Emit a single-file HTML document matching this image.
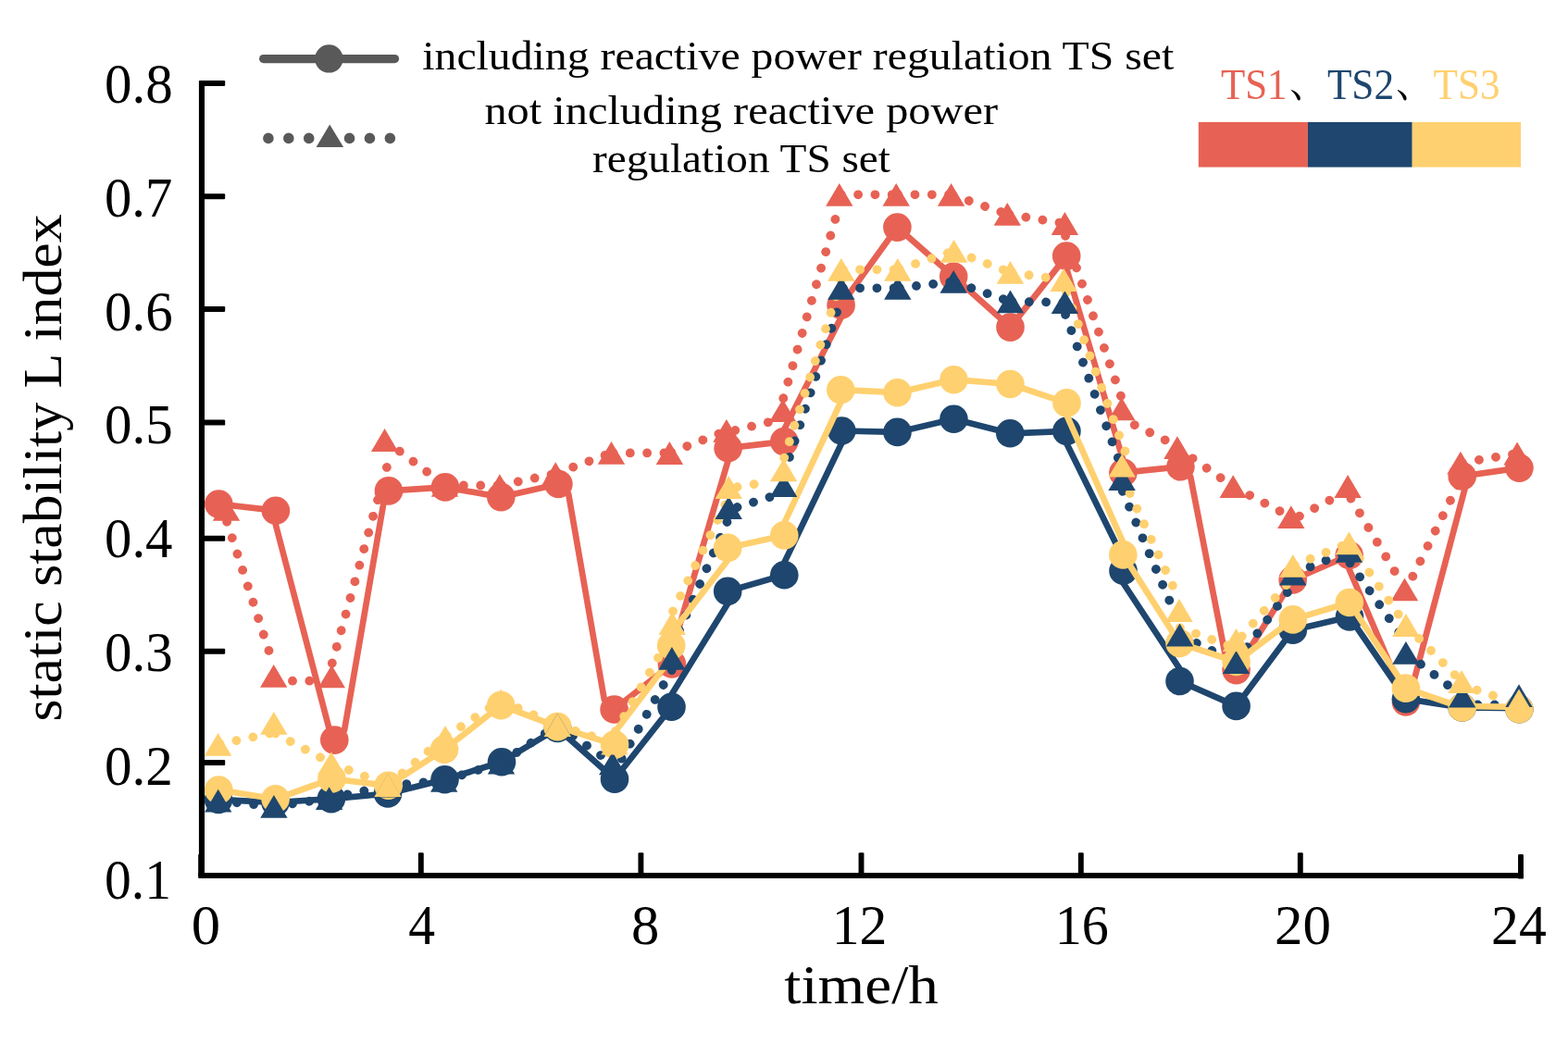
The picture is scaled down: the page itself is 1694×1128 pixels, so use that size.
<!DOCTYPE html>
<html lang="en">
<head>
<meta charset="utf-8">
<title>Static stability L index over time</title>
<style>
html,body{margin:0;padding:0;background:#fff;}
body{width:1694px;height:1128px;overflow:hidden;font-family:"Liberation Serif",serif;}
svg{display:block;}
text{white-space:pre;}
</style>
</head>
<body>
<svg width="1694" height="1128" viewBox="0 0 1694 1128">
<rect width="1694" height="1128" fill="#ffffff"/>
<g class="axes" fill="#000" stroke="none">
<rect class="y-axis" x="214.9" y="87" width="6.1" height="862" rx="0.8"/>
<rect class="x-axis" x="214.2" y="942.9" width="1431.8" height="6.1" rx="0.8"/>
<rect class="x-tick0" x="214.2" y="923" width="3" height="24" rx="0.8"/>
<rect class="y-tick" x="218" y="87.0" width="25.2" height="6" rx="1.2"/>
<rect class="y-tick" x="218" y="209.2" width="25.2" height="6" rx="1.2"/>
<rect class="y-tick" x="218" y="331.0" width="25.2" height="6" rx="1.2"/>
<rect class="y-tick" x="218" y="453.6" width="25.2" height="6" rx="1.2"/>
<rect class="y-tick" x="218" y="578.7" width="25.2" height="6" rx="1.2"/>
<rect class="y-tick" x="218" y="700.8" width="25.2" height="6" rx="1.2"/>
<rect class="y-tick" x="218" y="820.9" width="25.2" height="6" rx="1.2"/>
<rect class="x-tick" x="451.85" y="921.2" width="5.9" height="24.8" rx="1.2"/>
<rect class="x-tick" x="689.45" y="921.2" width="5.9" height="24.8" rx="1.2"/>
<rect class="x-tick" x="927.55" y="921.2" width="5.9" height="24.8" rx="1.2"/>
<rect class="x-tick" x="1164.85" y="921.2" width="5.9" height="24.8" rx="1.2"/>
<rect class="x-tick" x="1401.85" y="921.2" width="5.9" height="24.8" rx="1.2"/>
<rect class="x-tick" x="1640.05" y="923.0" width="5.9" height="26.6" rx="1.2"/>
</g>
<g class="ticklabels">
<text transform="translate(113.01,110.90) scale(0.9746,1)" font-family="'Liberation Serif', serif" font-size="60.5" fill="#000">0.8</text>
<text transform="translate(113.02,233.70) scale(0.9700,1)" font-family="'Liberation Serif', serif" font-size="60.5" fill="#000">0.7</text>
<text transform="translate(113.01,356.50) scale(0.9734,1)" font-family="'Liberation Serif', serif" font-size="60.5" fill="#000">0.6</text>
<text transform="translate(113.01,479.30) scale(0.9746,1)" font-family="'Liberation Serif', serif" font-size="60.5" fill="#000">0.5</text>
<text transform="translate(113.02,602.10) scale(0.9710,1)" font-family="'Liberation Serif', serif" font-size="60.5" fill="#000">0.4</text>
<text transform="translate(113.01,724.90) scale(0.9746,1)" font-family="'Liberation Serif', serif" font-size="60.5" fill="#000">0.3</text>
<text transform="translate(113.00,847.70) scale(0.9771,1)" font-family="'Liberation Serif', serif" font-size="60.5" fill="#000">0.2</text>
<text transform="translate(113.06,970.50) scale(0.9505,1)" font-family="'Liberation Serif', serif" font-size="60.5" fill="#000">0.1</text>
<text transform="translate(206.77,1020.30) scale(1.0369,1)" font-family="'Liberation Serif', serif" font-size="60.5" fill="#000">0</text>
<text transform="translate(441.21,1020.30) scale(0.9536,1)" font-family="'Liberation Serif', serif" font-size="60.5" fill="#000">4</text>
<text transform="translate(682.05,1020.30) scale(1.0019,1)" font-family="'Liberation Serif', serif" font-size="60.5" fill="#000">8</text>
<text transform="translate(898.71,1020.30) scale(0.9885,1)" font-family="'Liberation Serif', serif" font-size="60.5" fill="#000">12</text>
<text transform="translate(1139.76,1020.30) scale(0.9607,1)" font-family="'Liberation Serif', serif" font-size="60.5" fill="#000">16</text>
<text transform="translate(1376.93,1020.30) scale(1.0090,1)" font-family="'Liberation Serif', serif" font-size="60.5" fill="#000">20</text>
<text transform="translate(1611.09,1020.30) scale(0.9868,1)" font-family="'Liberation Serif', serif" font-size="60.5" fill="#000">24</text>
</g>
<g class="titles">
<text id="xtitle" transform="translate(847.36,1084.30) scale(1.0862,1)" font-family="'Liberation Serif', serif" font-size="60" fill="#000">time/h</text>
<text id="ytitle" transform="translate(66.00,779.57) rotate(-90) scale(1.0293,1)" font-family="'Liberation Serif', serif" font-size="60" fill="#000">static stability L index</text>
</g>
<g class="series">
<path class="ts1-solid-line" d="M236.3,544.6L297.9,551.7M297.9,567.0L355.5,787.0M372.1,788.8L414.4,543.5M419.9,530.4L481.0,526.4M481.0,526.4L541.3,537.1M541.3,537.1L603.4,523.0M614.2,533.8L652.8,755.7M663.6,766.5L725.9,717.4M725.9,704.1L786.6,497.5M786.6,484.2L847.3,477.1M847.3,463.8L908.6,343.1M908.6,329.8L969.4,245.6M969.4,245.6L1030.2,298.8M1030.2,298.8L1091.5,353.6M1091.5,353.6L1152.2,276.6M1152.2,289.9L1213.4,497.4M1213.4,510.7L1275.4,504.3M1286.2,515.1L1324.8,713.3M1335.6,724.1L1396.7,626.5M1396.7,626.5L1457.7,600.0M1457.7,615.3L1512.5,743.1M1525.0,745.1L1582.6,527.8M1579.7,514.5L1641.4,505.6" fill="none" stroke="#E76254" stroke-width="6.7" stroke-linecap="round"/>

<g class="ts1-solid-markers" fill="#E76254"><circle cx="236.3" cy="544.6" r="15.3"/><circle cx="297.9" cy="551.7" r="15.3"/><circle cx="361.3" cy="799.6" r="15.3"/><circle cx="419.9" cy="530.4" r="15.3"/><circle cx="481.0" cy="526.4" r="15.3"/><circle cx="541.3" cy="537.1" r="15.3"/><circle cx="603.4" cy="523.0" r="15.3"/><circle cx="663.6" cy="766.5" r="15.3"/><circle cx="725.9" cy="717.4" r="15.3"/><circle cx="786.6" cy="484.2" r="15.3"/><circle cx="847.3" cy="477.1" r="15.3"/><circle cx="908.6" cy="329.8" r="15.3"/><circle cx="969.4" cy="245.6" r="15.3"/><circle cx="1030.2" cy="298.8" r="15.3"/><circle cx="1091.5" cy="353.6" r="15.3"/><circle cx="1152.2" cy="276.6" r="15.3"/><circle cx="1213.4" cy="510.7" r="15.3"/><circle cx="1275.4" cy="504.3" r="15.3"/><circle cx="1335.6" cy="724.1" r="15.3"/><circle cx="1396.7" cy="626.5" r="15.3"/><circle cx="1457.7" cy="600.0" r="15.3"/><circle cx="1518.9" cy="758.4" r="15.3"/><circle cx="1579.7" cy="514.5" r="15.3"/><circle cx="1641.4" cy="505.6" r="15.3"/></g>

<path class="ts1-dotted-line" d="M244.5,561.8L295.7,719.0M314.0,735.7L343.6,735.7M358.3,718.4L422.6,487.9M415.6,475.5L480.6,524.3M480.6,524.3L539.9,524.6M539.9,524.6L600.2,511.7M600.2,511.7L660.5,489.4M660.5,489.4L723.4,489.5M723.4,489.5L784.9,465.4M792.3,465.4L831.0,456.0M845.7,432.2L906.8,221.7M906.8,210.3L968.2,210.3M968.2,210.3L1027.6,210.3M1027.6,210.3L1088.3,231.4M1088.3,231.4L1150.4,241.5M1150.4,252.9L1211.8,430.4M1224.0,458.3L1271.9,481.8M1271.9,483.7L1332.2,525.6M1332.2,525.6L1394.8,558.6M1402.2,558.6L1441.4,537.9M1458.5,536.9L1511.7,625.5M1525.4,624.5L1580.9,512.6M1577.9,500.2L1639.1,490.0" fill="none" stroke="#E76254" stroke-width="9.8" stroke-linecap="round" stroke-dasharray="0.01 18.29" stroke-dashoffset="16.30"/>

<g class="ts1-dotted-markers" fill="#E76254"><polygon points="244.5,538.0 259.2,562.8 229.8,562.8"/><polygon points="295.7,718.0 310.4,742.8 281.0,742.8"/><polygon points="358.3,718.4 373.0,743.2 343.6,743.2"/><polygon points="415.6,463.1 430.3,487.9 400.9,487.9"/><polygon points="480.6,511.9 495.3,536.7 465.9,536.7"/><polygon points="539.9,512.2 554.6,537.0 525.2,537.0"/><polygon points="600.2,499.3 614.9,524.1 585.5,524.1"/><polygon points="660.5,477.0 675.2,501.8 645.8,501.8"/><polygon points="723.4,477.1 738.1,501.9 708.7,501.9"/><polygon points="784.9,453.0 799.6,477.8 770.2,477.8"/><polygon points="845.7,431.2 860.4,456.0 831.0,456.0"/><polygon points="906.8,197.9 921.5,222.7 892.1,222.7"/><polygon points="968.2,197.9 982.9,222.7 953.5,222.7"/><polygon points="1027.6,197.9 1042.3,222.7 1012.9,222.7"/><polygon points="1088.3,219.0 1103.0,243.8 1073.6,243.8"/><polygon points="1150.4,229.1 1165.1,253.9 1135.7,253.9"/><polygon points="1211.8,429.4 1226.5,454.2 1197.1,454.2"/><polygon points="1271.9,471.3 1286.6,496.1 1257.2,496.1"/><polygon points="1332.2,513.2 1346.9,538.0 1317.5,538.0"/><polygon points="1394.8,546.2 1409.5,571.0 1380.1,571.0"/><polygon points="1456.1,513.1 1470.8,537.9 1441.4,537.9"/><polygon points="1517.5,624.5 1532.2,649.3 1502.8,649.3"/><polygon points="1577.9,487.8 1592.6,512.6 1563.2,512.6"/><polygon points="1639.1,477.6 1653.8,502.4 1624.4,502.4"/></g>

<path class="ts2-solid-line" d="M236.0,864.0L297.5,867.0M297.5,867.0L357.9,863.1M357.9,863.1L419.0,857.5M419.0,857.5L480.5,842.3M480.5,842.3L542.0,823.2M542.0,823.2L602.3,787.0M602.3,787.0L664.0,841.8M664.0,841.8L725.5,763.7M725.5,750.4L786.2,652.2M786.2,638.9L847.3,621.2M847.3,607.9L909.3,478.8M909.3,465.5L969.5,466.9M969.5,466.9L1030.4,452.7M1030.4,452.7L1091.3,468.3M1091.3,468.3L1152.4,465.9M1152.4,479.2L1213.5,603.4M1213.5,630.0L1274.5,722.7M1274.5,736.0L1335.6,762.9M1335.6,762.9L1396.8,680.7M1396.8,680.7L1458.0,666.5M1458.0,666.5L1518.9,755.2M1518.9,755.2L1579.7,764.5M1579.7,764.4L1641.4,765.2" fill="none" stroke="#1E466E" stroke-width="6.7" stroke-linecap="round"/>

<g class="ts2-solid-markers" fill="#1E466E"><circle cx="236.0" cy="864.0" r="15.3"/><circle cx="297.5" cy="867.0" r="15.3"/><circle cx="357.9" cy="863.1" r="15.3"/><circle cx="419.0" cy="857.5" r="15.3"/><circle cx="480.5" cy="842.3" r="15.3"/><circle cx="542.0" cy="823.2" r="15.3"/><circle cx="602.3" cy="787.0" r="15.3"/><circle cx="664.0" cy="841.8" r="15.3"/><circle cx="725.5" cy="763.7" r="15.3"/><circle cx="786.2" cy="638.9" r="15.3"/><circle cx="847.3" cy="621.2" r="15.3"/><circle cx="909.3" cy="465.5" r="15.3"/><circle cx="969.5" cy="466.9" r="15.3"/><circle cx="1030.4" cy="452.7" r="15.3"/><circle cx="1091.3" cy="468.3" r="15.3"/><circle cx="1152.4" cy="465.9" r="15.3"/><circle cx="1213.5" cy="616.7" r="15.3"/><circle cx="1274.5" cy="736.0" r="15.3"/><circle cx="1335.6" cy="762.9" r="15.3"/><circle cx="1396.8" cy="680.7" r="15.3"/><circle cx="1458.0" cy="666.5" r="15.3"/><circle cx="1518.9" cy="755.2" r="15.3"/><circle cx="1579.7" cy="764.5" r="15.3"/><circle cx="1641.4" cy="766.3" r="15.3"/></g>

<path class="ts2-dotted-line" d="M235.7,865.2L295.9,871.3M295.9,871.3L355.6,862.6M355.6,862.6L419.0,849.0M419.0,849.0L479.7,843.3M479.7,843.3L541.5,824.2M541.5,824.2L602.3,783.5M602.3,783.5L661.7,824.9M661.7,837.3L725.9,723.7M725.9,699.9L787.2,560.0M794.6,548.6L831.9,537.0M846.6,513.2L908.8,322.7M908.8,311.3L969.8,311.3M969.8,311.3L1030.2,304.3M1030.2,304.3L1091.5,325.9M1091.5,325.9L1150.4,326.7M1150.4,338.1L1212.1,506.2M1212.1,529.0L1274.5,674.8M1274.5,686.2L1335.5,715.5M1335.5,715.5L1396.8,632.0M1396.8,620.0L1457.4,595.3M1457.4,606.7L1518.9,693.9M1518.9,705.3L1579.7,752.2M1594.4,761.5L1626.3,761.5" fill="none" stroke="#1E466E" stroke-width="9.8" stroke-linecap="round" stroke-dasharray="0.01 18.29" stroke-dashoffset="16.30"/>

<path class="ts3-solid-line" d="M236.3,853.5L297.6,863.3M297.6,863.3L358.5,841.5M358.5,841.5L419.6,848.8M419.6,848.8L480.0,809.8M480.0,809.8L541.2,762.1M541.2,762.1L602.3,785.1M602.3,785.1L664.0,804.6M664.0,791.3L725.2,710.8M725.2,684.2L786.2,605.2M786.2,591.9L847.3,578.4M847.3,565.1L908.3,434.5M908.3,421.2L969.5,424.2M969.5,424.2L1030.4,410.2M1030.4,410.2L1091.4,415.0M1091.4,415.0L1152.5,435.4M1152.5,448.7L1213.3,586.1M1213.3,599.4L1274.5,695.0M1274.5,695.0L1335.6,715.0M1335.6,715.0L1396.8,669.4M1396.8,669.4L1457.8,651.0M1457.8,651.0L1518.9,743.6M1518.9,743.6L1579.7,764.5M1579.7,763.0L1641.4,763.8" fill="none" stroke="#FFD06F" stroke-width="6.7" stroke-linecap="round"/>

<g class="ts3-solid-markers" fill="#FFD06F"><circle cx="236.3" cy="853.5" r="15.3"/><circle cx="297.6" cy="863.3" r="15.3"/><circle cx="358.5" cy="841.5" r="15.3"/><circle cx="419.6" cy="848.8" r="15.3"/><circle cx="480.0" cy="809.8" r="15.3"/><circle cx="541.2" cy="762.1" r="15.3"/><circle cx="602.3" cy="785.1" r="15.3"/><circle cx="664.0" cy="804.6" r="15.3"/><circle cx="725.2" cy="697.5" r="15.3"/><circle cx="786.2" cy="591.9" r="15.3"/><circle cx="847.3" cy="578.4" r="15.3"/><circle cx="908.3" cy="421.2" r="15.3"/><circle cx="969.5" cy="424.2" r="15.3"/><circle cx="1030.4" cy="410.2" r="15.3"/><circle cx="1091.4" cy="415.0" r="15.3"/><circle cx="1152.5" cy="435.4" r="15.3"/><circle cx="1213.3" cy="599.4" r="15.3"/><circle cx="1274.5" cy="695.0" r="15.3"/><circle cx="1335.6" cy="715.0" r="15.3"/><circle cx="1396.8" cy="669.4" r="15.3"/><circle cx="1457.8" cy="651.0" r="15.3"/><circle cx="1518.9" cy="743.6" r="15.3"/><circle cx="1579.7" cy="764.5" r="15.3"/><circle cx="1641.4" cy="766.3" r="15.3"/></g>

<path class="ts3-dotted-line" d="M235.6,804.4L295.8,791.5M295.8,791.5L357.9,824.6M357.9,824.6L419.0,848.5M419.0,848.5L481.0,796.3M481.0,796.3L541.0,757.0M541.0,757.0L602.3,783.5M602.3,783.5L664.0,803.0M664.0,791.6L726.2,684.9M726.2,662.1L787.2,537.9M794.6,526.5L831.9,520.3M846.6,496.5L908.8,302.7M908.8,291.3L969.8,291.3M969.8,291.3L1030.6,271.3M1030.6,271.3L1091.5,294.4M1091.5,294.4L1149.2,302.5M1151.4,313.9L1217.0,491.8M1212.1,514.6L1274.0,648.1M1273.0,677.6L1335.3,700.6M1340.5,689.0L1396.8,623.8M1396.8,611.4L1457.4,586.8M1457.4,586.8L1518.9,675.5M1518.9,675.5L1579.0,736.5M1593.7,745.0L1626.3,756.0" fill="none" stroke="#FFD06F" stroke-width="9.8" stroke-linecap="round" stroke-dasharray="0.01 18.29" stroke-dashoffset="16.30"/>

<g class="ts2-dotted-markers" fill="#1E466E"><polygon points="235.7,852.8 250.4,877.6 221.0,877.6"/><polygon points="295.9,858.9 310.6,883.7 281.2,883.7"/><polygon points="355.6,850.2 370.3,875.0 340.9,875.0"/><polygon points="419.0,836.6 433.7,861.4 404.3,861.4"/><polygon points="479.7,830.9 494.4,855.7 465.0,855.7"/><polygon points="541.5,811.8 556.2,836.6 526.8,836.6"/><polygon points="602.3,771.1 617.0,795.9 587.6,795.9"/><polygon points="661.7,812.5 676.4,837.3 647.0,837.3"/><polygon points="725.9,698.9 740.6,723.7 711.2,723.7"/><polygon points="787.2,536.2 801.9,561.0 772.5,561.0"/><polygon points="846.6,512.2 861.3,537.0 831.9,537.0"/><polygon points="908.8,298.9 923.5,323.7 894.1,323.7"/><polygon points="969.8,298.9 984.5,323.7 955.1,323.7"/><polygon points="1030.2,291.9 1044.9,316.7 1015.5,316.7"/><polygon points="1091.5,313.5 1106.2,338.3 1076.8,338.3"/><polygon points="1150.4,314.3 1165.1,339.1 1135.7,339.1"/><polygon points="1212.1,505.2 1226.8,530.0 1197.4,530.0"/><polygon points="1274.5,673.8 1289.2,698.6 1259.8,698.6"/><polygon points="1335.5,703.1 1350.2,727.9 1320.8,727.9"/><polygon points="1396.8,607.6 1411.5,632.4 1382.1,632.4"/><polygon points="1457.4,582.9 1472.1,607.7 1442.7,607.7"/><polygon points="1518.9,692.9 1533.6,717.7 1504.2,717.7"/><polygon points="1579.7,739.8 1594.4,764.6 1565.0,764.6"/><polygon points="1641.0,739.3 1655.7,764.1 1626.3,764.1"/></g>

<g class="ts3-dotted-markers" fill="#FFD06F"><polygon points="235.6,792.0 250.3,816.8 220.9,816.8"/><polygon points="295.8,768.9 310.5,793.7 281.1,793.7"/><polygon points="357.9,812.2 372.6,837.0 343.2,837.0"/><polygon points="419.0,836.1 433.7,860.9 404.3,860.9"/><polygon points="481.0,783.9 495.7,808.7 466.3,808.7"/><polygon points="541.0,744.6 555.7,769.4 526.3,769.4"/><polygon points="602.3,771.1 617.0,795.9 587.6,795.9"/><polygon points="664.0,790.6 678.7,815.4 649.3,815.4"/><polygon points="726.2,661.1 740.9,685.9 711.5,685.9"/><polygon points="787.2,514.1 801.9,538.9 772.5,538.9"/><polygon points="846.6,495.5 861.3,520.3 831.9,520.3"/><polygon points="908.8,278.9 923.5,303.7 894.1,303.7"/><polygon points="969.8,278.9 984.5,303.7 955.1,303.7"/><polygon points="1030.6,258.9 1045.3,283.7 1015.9,283.7"/><polygon points="1091.5,282.0 1106.2,306.8 1076.8,306.8"/><polygon points="1149.2,290.1 1163.9,314.9 1134.5,314.9"/><polygon points="1212.1,490.8 1226.8,515.6 1197.4,515.6"/><polygon points="1274.0,647.1 1288.7,671.9 1259.3,671.9"/><polygon points="1335.5,679.1 1350.2,703.9 1320.8,703.9"/><polygon points="1396.8,599.0 1411.5,623.8 1382.1,623.8"/><polygon points="1457.4,574.4 1472.1,599.2 1442.7,599.2"/><polygon points="1518.9,663.1 1533.6,687.9 1504.2,687.9"/><polygon points="1579.0,724.1 1593.7,748.9 1564.3,748.9"/><polygon points="1641.0,744.6 1655.7,769.4 1626.3,769.4"/></g>

</g>
<g class="legend" fill="#595959" stroke="#595959">
<line x1="284.6" y1="63.6" x2="426.5" y2="63.6" stroke-width="9.2" stroke-linecap="round"/>
<circle cx="355.4" cy="63.4" r="15.2" stroke="none"/>
<line x1="289.9" y1="149.4" x2="421.5" y2="149.4" stroke-width="11.6" stroke-linecap="round" stroke-dasharray="0.01 21.9"/>
<polygon points="356.2,134.6 371.1,159 341.6,159" stroke="none"/>
</g>
<g class="legendtext">
<text id="lg1" transform="translate(456.24,75.00) scale(1.0615,1)" font-family="'Liberation Serif', serif" font-size="45" fill="#000">including reactive power regulation TS set</text>
<text id="lg2" transform="translate(523.43,133.70) scale(1.0749,1)" font-family="'Liberation Serif', serif" font-size="45" fill="#000">not including reactive power</text>
<text id="lg3" transform="translate(640.05,186.00) scale(1.0503,1)" font-family="'Liberation Serif', serif" font-size="45" fill="#000">regulation TS set</text>
</g>
<g class="colorbar"><rect x="1294.8" y="131.9" width="118.1" height="48.7" fill="#E76254"/><rect x="1412.9" y="131.9" width="112.8" height="48.7" fill="#1E466E"/><rect x="1525.7" y="131.9" width="117.4" height="48.7" fill="#FFD06F"/></g>
<g class="tslabels">
<text id="ts1" transform="translate(1318.91,107.10) scale(0.9243,1)" font-family="'Liberation Serif', serif" font-size="46.5" fill="#E76254">TS1</text>
<text id="sep1" transform="translate(1393.41,104.40) scale(0.8444,1)" font-family="'Liberation Serif', 'Noto Serif CJK SC', serif" font-size="46" fill="#000">、</text>
<text id="ts2" transform="translate(1433.90,107.10) scale(0.9320,1)" font-family="'Liberation Serif', serif" font-size="46.5" fill="#1E466E">TS2</text>
<text id="sep2" transform="translate(1508.31,104.40) scale(0.8444,1)" font-family="'Liberation Serif', 'Noto Serif CJK SC', serif" font-size="46" fill="#000">、</text>
<text id="ts3" transform="translate(1548.60,107.10) scale(0.9293,1)" font-family="'Liberation Serif', serif" font-size="46.5" fill="#FFD06F">TS3</text>
</g>
</svg>
</body>
</html>
